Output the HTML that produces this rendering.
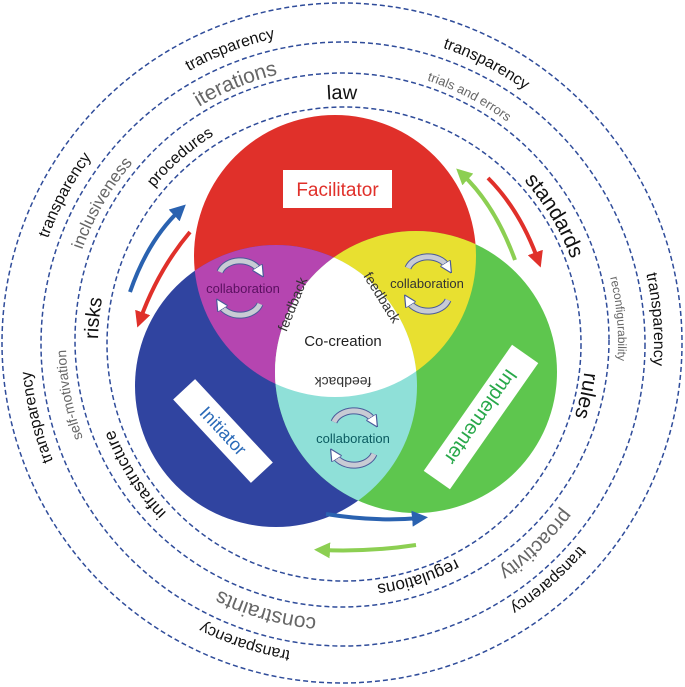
<!DOCTYPE html>
<html><head><meta charset="utf-8"><style>
html,body{margin:0;padding:0;background:#fff;}
svg{display:block;font-family:"Liberation Sans",sans-serif;}
</style></head><body>
<svg width="685" height="687" viewBox="0 0 685 687" xmlns="http://www.w3.org/2000/svg">
<defs>
<path id="p1" d="M342,31 A312,312 0 1 1 342,655 A312,312 0 1 1 342,31 A312,312 0 1 1 342,655 A312,312 0 1 1 342,31"/>
<path id="p2" d="M342,67 A276,276 0 1 1 342,619 A276,276 0 1 1 342,67 A276,276 0 1 1 342,619 A276,276 0 1 1 342,67"/>
<path id="p3" d="M342,99 A244,244 0 1 1 342,587 A244,244 0 1 1 342,99 A244,244 0 1 1 342,587 A244,244 0 1 1 342,99"/>
<clipPath id="cr"><circle cx="335" cy="256" r="141"/></clipPath>
<clipPath id="cb"><circle cx="276" cy="386" r="141"/></clipPath>
<marker id="ab" viewBox="0 0 10 10" refX="5" refY="5" markerWidth="4" markerHeight="4" orient="auto"><path d="M0,0 L10,5 L0,10 z" fill="#2a62b0"/></marker>
<marker id="ar" viewBox="0 0 10 10" refX="5" refY="5" markerWidth="4" markerHeight="4" orient="auto"><path d="M0,0 L10,5 L0,10 z" fill="#e0302a"/></marker>
<marker id="ag" viewBox="0 0 10 10" refX="5" refY="5" markerWidth="4" markerHeight="4" orient="auto"><path d="M0,0 L10,5 L0,10 z" fill="#8ccf52"/></marker>
<marker id="aw" viewBox="0 0 10 10" refX="3" refY="5" markerWidth="2.4" markerHeight="2.4" orient="auto"><path d="M0,0 L10,5 L0,10 z" fill="#fff" stroke="#4a5a9a" stroke-width="1"/></marker>
<g id="icon">
<path d="M-20,-16 A21,16 0 0 1 19,-18" fill="none" stroke="#4a5a9a" stroke-width="7"/>
<path d="M-20,-16 A21,16 0 0 1 19,-18" fill="none" stroke="#c8cbd4" stroke-width="5" marker-end="url(#aw)"/>
<path d="M20,16 A21,16 0 0 1 -19,18" fill="none" stroke="#4a5a9a" stroke-width="7"/>
<path d="M20,16 A21,16 0 0 1 -19,18" fill="none" stroke="#c8cbd4" stroke-width="5" marker-end="url(#aw)"/>
</g>
</defs>
<g fill="none" stroke="#2f4c9a" stroke-width="1.5" stroke-dasharray="5,3">
<circle cx="342" cy="343" r="340"/>
<circle cx="343" cy="344" r="302"/>
<circle cx="342" cy="340" r="267"/>
<circle cx="344" cy="344" r="237"/>
</g>
<circle cx="335" cy="256" r="141" fill="#e0302a"/>
<circle cx="276" cy="386" r="141" fill="#3044a0"/>
<circle cx="416" cy="372" r="141" fill="#5ec64e"/>
<g clip-path="url(#cr)"><circle cx="276" cy="386" r="141" fill="#b545b0"/><circle cx="416" cy="372" r="141" fill="#e8e030"/></g>
<g clip-path="url(#cb)"><circle cx="416" cy="372" r="141" fill="#8fe0d8"/></g>
<g clip-path="url(#cr)"><g clip-path="url(#cb)"><circle cx="416" cy="372" r="141" fill="#fff"/></g></g>

<rect x="283" y="170" width="109" height="38" fill="#fff"/>
<text x="337.5" y="196" font-size="19" fill="#e0302a" text-anchor="middle">Facilitator</text>
<g transform="translate(223,431) rotate(47)"><rect x="-57" y="-15" width="114" height="30" fill="#fff"/><text x="0" y="6" font-size="18" fill="#2a6ab8" text-anchor="middle">Initiator</text></g>
<g transform="translate(481,417) rotate(125)"><rect x="-77" y="-16" width="154" height="32" fill="#fff"/><text x="0" y="7" font-size="20" fill="#28a84a" text-anchor="middle">Implementer</text></g>

<use href="#icon" x="240" y="288"/>
<use href="#icon" x="428" y="284"/>
<use href="#icon" x="354" y="438"/>
<g font-size="13" text-anchor="middle">
<text x="243" y="293" fill="#5a1060">collaboration</text>
<text x="427" y="288" fill="#333">collaboration</text>
<text x="353" y="443" fill="#0a5a60">collaboration</text>
</g>
<text x="343" y="346" font-size="15" text-anchor="middle" fill="#222">Co-creation</text>
<g font-size="14" fill="#333" text-anchor="middle">
<text transform="translate(297,306) rotate(-68)">feedback</text>
<text transform="translate(378,300) rotate(58)">feedback</text>
<text transform="translate(343,377) rotate(180)">feedback</text>
</g>

<g fill="none" stroke-width="4">
<path d="M130,292 Q148,240 180,210" stroke="#2a62b0" marker-end="url(#ab)"/>
<path d="M190,232 Q158,270 140,320" stroke="#e0302a" marker-end="url(#ar)"/>
<path d="M515,260 Q495,205 462,174" stroke="#8ccf52" marker-end="url(#ag)"/>
<path d="M488,178 Q520,210 538,260" stroke="#e0302a" marker-end="url(#ar)"/>
<path d="M326,514 Q375,522 420,518" stroke="#2a62b0" marker-end="url(#ab)"/>
<path d="M416,545 Q370,552 322,550" stroke="#8ccf52" marker-end="url(#ag)"/>
</g>

<g font-size="16" fill="#111" text-anchor="middle">
<text><textPath href="#p1" startOffset="47.1%">transparency</textPath></text>
<text><textPath href="#p1" startOffset="53.8%">transparency</textPath></text>
<text><textPath href="#p1" startOffset="61.9%">transparency</textPath></text>
<text><textPath href="#p1" startOffset="69.3%">transparency</textPath></text>
<text><textPath href="#p1" startOffset="27.5%">transparency</textPath></text>
<text><textPath href="#p1" startOffset="35.6%">transparency</textPath></text>
<text><textPath href="#p1" startOffset="41.4%">transparency</textPath></text>
</g>
<g fill="#666" text-anchor="middle">
<text font-size="21"><textPath href="#p2" startOffset="46.9%">iterations</textPath></text>
<text font-size="13"><textPath href="#p2" startOffset="53.8%">trials and errors</textPath></text>
<text font-size="17"><textPath href="#p2" startOffset="41.7%">inclusiveness</textPath></text>
<text font-size="14"><textPath href="#p2" startOffset="36%">self-motivation</textPath></text>
<text font-size="12"><textPath href="#p2" startOffset="61.8%">reconfigurability</textPath></text>
<text font-size="20"><textPath href="#p2" startOffset="68.9%">proactivity</textPath></text>
<text font-size="21"><textPath href="#p2" startOffset="27.2%">constraints</textPath></text>
</g>
<g fill="#111" text-anchor="middle">
<text font-size="20"><textPath href="#p3" startOffset="50%">law</textPath></text>
<text font-size="16"><textPath href="#p3" startOffset="44.3%">procedures</textPath></text>
<text font-size="21"><textPath href="#p3" startOffset="58.2%">standards</textPath></text>
<text font-size="21"><textPath href="#p3" startOffset="64.2%">rules</textPath></text>
<text font-size="17"><textPath href="#p3" startOffset="72.5%">regulations</textPath></text>
<text font-size="17"><textPath href="#p3" startOffset="33%">infrastructure</textPath></text>
<text font-size="20"><textPath href="#p3" startOffset="38.3%">risks</textPath></text>
</g>
</svg>
</body></html>
